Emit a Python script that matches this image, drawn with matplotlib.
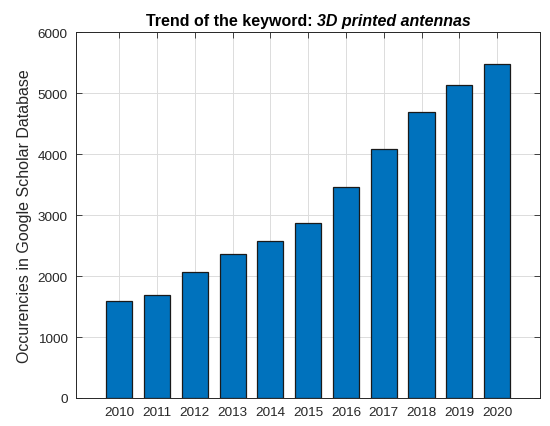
import matplotlib
matplotlib.use("Agg")
import matplotlib.pyplot as plt
from matplotlib.offsetbox import TextArea, HPacker, AnchoredOffsetbox

years = [2010, 2011, 2012, 2013, 2014, 2015, 2016, 2017, 2018, 2019, 2020]
counts = [1600, 1690, 2060, 2370, 2570, 2880, 3460, 4090, 4690, 5140, 5480]
yticks = [0, 1000, 2000, 3000, 4000, 5000, 6000]

plt.rcParams['font.family'] = ['Liberation Sans', 'DejaVu Sans']

fig = plt.figure(figsize=(5.5, 4.27), dpi=100)
ax = fig.add_axes([0.138, 0.0656, 0.844, 0.856])

ax.bar(years, counts, width=0.69, color='#0072BD', edgecolor='#1a1a1a',
       linewidth=0.9, zorder=3)

ax.set_xlim(2008.85, 2021.14)
ax.set_ylim(0, 6000)
ax.set_xticks(years)
ax.set_xticklabels([str(y) for y in years])
ax.set_yticks(yticks)
ax.set_yticklabels([str(v) for v in yticks])

ax.grid(True, color='#dcdcdc', linewidth=0.7, zorder=0)
ax.set_axisbelow(True)
ax.tick_params(direction='in', top=True, right=True, length=4,
               width=0.6, color='#262626', labelsize=9.7,
               labelcolor='#262626', pad=6)
for s in ax.spines.values():
    s.set_color('#262626')
    s.set_linewidth(0.7)

ax.set_ylabel('Occurencies in Google Scholar Database', fontsize=11.5,
              color='#262626', labelpad=4)

t1 = TextArea('Trend of the keyword: ',
              textprops=dict(fontsize=11.5, fontweight='bold', color='black'))
t2 = TextArea('3D printed antennas',
              textprops=dict(fontsize=11.5, fontweight='bold', style='italic',
                             color='black'))
box = HPacker(children=[t1, t2], align='baseline', pad=0, sep=0)
anch = AnchoredOffsetbox(loc='lower center', child=box, pad=0, frameon=False,
                         bbox_to_anchor=(0.5, 1.012),
                         bbox_transform=ax.transAxes, borderpad=0)
ax.add_artist(anch)

fig.savefig('out.png', dpi=100)
